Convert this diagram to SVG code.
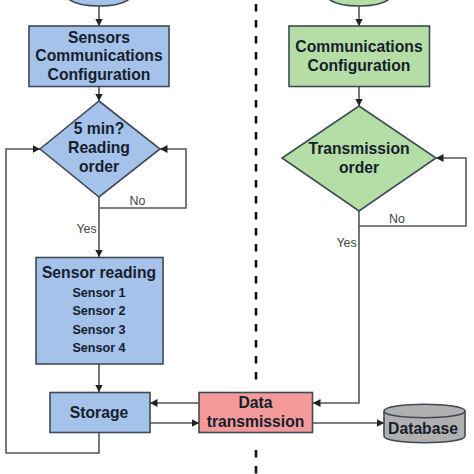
<svg xmlns="http://www.w3.org/2000/svg" width="474" height="474" viewBox="0 0 474 474">
<style>
.n{stroke:#3f4a55;stroke-width:1.6}
.b{fill:#a4c2ea}.g{fill:#b5dea6}.r{fill:#f49a9a}.d{fill:#b0b0b0}
text{font-family:"Liberation Sans",Arial,sans-serif;font-weight:700;font-size:15.700px;fill:#16202c;text-anchor:middle}
.s{font-size:12.600px}
.l{font-weight:400;font-size:12.400px;fill:#444}
.c{fill:none;stroke:#555;stroke-width:1.6}
.a{marker-end:url(#m)}
.v{fill:none;stroke:#111;stroke-width:2.6;stroke-dasharray:7.5 8.5}
</style>
<defs><marker id="m" markerUnits="userSpaceOnUse" markerWidth="8" markerHeight="8" refX="7.5" refY="4" orient="auto"><path d="M0 0L7.5 4L0 8Z" fill="#222"/></marker></defs>
<g id="connectors">
<path class="v" d="M256 4V380"/>
<path class="v" d="M256 450V474"/>
<path class="c a" d="M99 6V26"/>
<path class="c a" d="M99 87V101"/>
<path class="c a" d="M99 197V257"/>
<path class="c a" d="M99 208H186V149H160"/>
<path class="c a" d="M99 364V392"/>
<path class="c a" d="M99 433V453H6V149H40"/>
<path class="c a" d="M199 403H150"/>
<path class="c a" d="M150 423H199"/>
<path class="c a" d="M359 6V26"/>
<path class="c a" d="M359 87V106"/>
<path class="c a" d="M359 211V403H313"/>
<path class="c a" d="M359 226H466V158H436"/>
<path class="c a" d="M313 423H384"/>
</g>
<g id="start-left"><path class="n b" d="M70 -6H128V0C122 4 112 6 99 6C86 6 76 4 70 0Z"/></g>
<g id="start-right"><path class="n g" d="M330 -6H388V0C382 4 372 6 359 6C346 6 336 4 330 0Z"/></g>
<g id="config-left"><rect class="n b" x="29" y="26" width="140" height="60.500"/>
<text x="99" y="42.500">Sensors</text><text x="99" y="61">Communications</text><text x="99" y="80">Configuration</text></g>
<g id="reading-order"><path class="n b" d="M99 101L160 149L99 197L40 149Z"/>
<text x="99" y="134">5 min?</text><text x="99" y="153">Reading</text><text x="99" y="172">order</text></g>
<g id="sensor-reading"><rect class="n b" x="36" y="257.500" width="127" height="106.500"/>
<text x="99" y="278">Sensor reading</text><text class="s" x="99" y="297">Sensor 1</text><text class="s" x="99" y="315">Sensor 2</text><text class="s" x="99" y="334">Sensor 3</text><text class="s" x="99" y="352">Sensor 4</text></g>
<g id="storage"><rect class="n b" x="50" y="392.500" width="100" height="40"/>
<text x="99" y="418">Storage</text></g>
<g id="data-transmission"><rect class="n r" x="199" y="392.500" width="113.500" height="40"/>
<text x="255.500" y="408">Data</text><text x="255.500" y="427">transmission</text></g>
<g id="database"><path class="n d" d="M384 411C384 402 465 402 465 411V436C465 445 384 445 384 436Z"/><path class="n" fill="none" d="M384 411C384 420 465 420 465 411"/>
<text x="423" y="433.500">Database</text></g>
<g id="config-right"><rect class="n g" x="289" y="26" width="140.500" height="60.500"/>
<text x="359" y="52">Communications</text><text x="359" y="71">Configuration</text></g>
<g id="transmission-order"><path class="n g" d="M359 106L436 158L359 211L282 158Z"/>
<text x="359" y="154">Transmission</text><text x="359" y="173">order</text></g>
<text class="l" x="137.500" y="205">No</text>
<text class="l" x="86.500" y="233">Yes</text>
<text class="l" x="397" y="223">No</text>
<text class="l" x="346.500" y="247">Yes</text>
</svg>
